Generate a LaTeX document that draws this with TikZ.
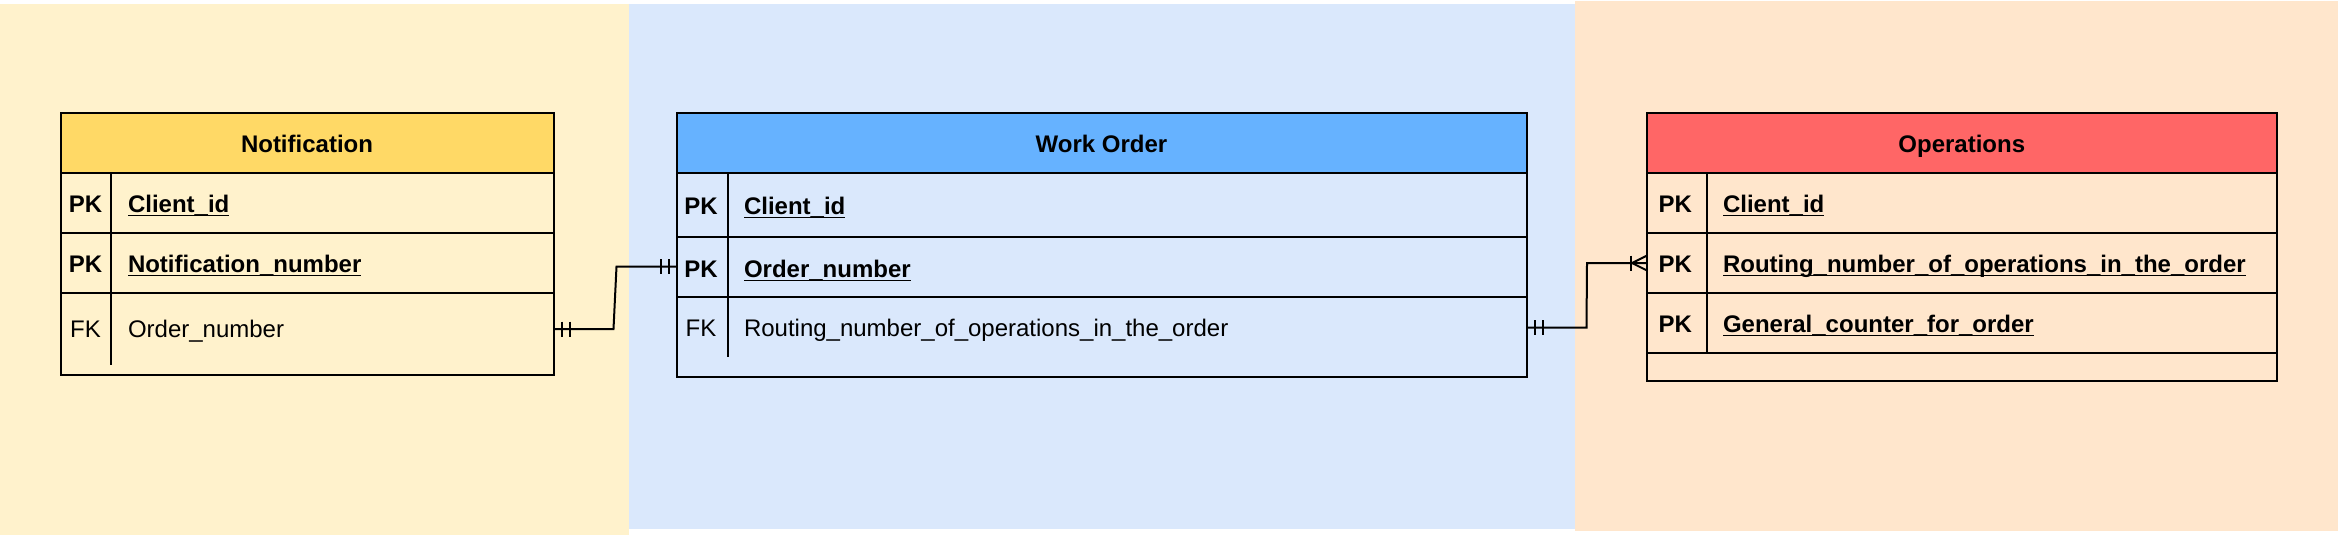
\documentclass[tikz,border=0pt]{standalone}
\usepackage{fontspec}
\setmainfont{Liberation Sans}
\usetikzlibrary{calc}
\definecolor{notepanel}{HTML}{FFF2CC}
\definecolor{orderpanel}{HTML}{DAE8FC}
\definecolor{operpanel}{HTML}{FFE6CC}
\definecolor{notehead}{HTML}{FFD966}
\definecolor{orderhead}{HTML}{66B2FF}
\definecolor{operhead}{HTML}{FF6666}
\newlength{\pxunit}
\setlength{\pxunit}{0.5pt}
\newcommand{\keyfield}[1]{\textbf{\underline{\smash{#1}}}}

\begin{document}
\begin{tikzpicture}[x=\pxunit,y=-\pxunit,line width=1pt,box/.style={rectangle,draw,line width=1pt,inner sep=0,outer sep=0},head/.style={box,minimum height=60\pxunit,text height=12.5pt,text depth=2.4pt,font=\fontsize{12pt}{14pt}\selectfont\bfseries},key/.style={inner sep=0,text height=11pt,text depth=2.4pt,font=\fontsize{12pt}{14pt}\selectfont},field/.style={key,anchor=west},wire/.style={draw,line width=1pt}]
  \useasboundingbox (0,0) rectangle (2338,538);
  \fill[notepanel] (0,3.5) rectangle (629,534.5);
  \fill[orderpanel] (629,3.5) rectangle (1574.5,528.5);
  \fill[operpanel] (1574.5,0.5) rectangle (2338,531);
  \node[head,fill=notehead,minimum width=493\pxunit] (n1) at (307,142.5) {Notification};
  \node[box,minimum width=493\pxunit,minimum height=60.5\pxunit] (n2) at (307,202.75) {};
  \node[box,minimum width=493\pxunit,minimum height=60\pxunit] (n3) at (307,263) {};
  \node[box,minimum width=493\pxunit,minimum height=82\pxunit] (n4) at (307,334) {};
  \node[key] (n5) at (85.5,203.5) {\textbf{PK}};
  \node[field] (n6) at (127,203.5) {\keyfield{Client\_id}};
  \node[key] (n7) at (85.5,264) {\textbf{PK}};
  \node[field] (n8) at (127,264) {\keyfield{Notification\_number}};
  \node[key] (n9) at (85.5,329) {FK};
  \node[field] (n10) at (127,329) {Order\_number};
  \draw (110.7,172.5) -- (110.7,364.7);
  \node[head,fill=orderhead,minimum width=850\pxunit] (n11) at (1101.5,142.5) {Work Order};
  \node[box,minimum width=850\pxunit,minimum height=64\pxunit] (n12) at (1101.5,204.5) {};
  \node[box,minimum width=850\pxunit,minimum height=60\pxunit] (n13) at (1101.5,266.5) {};
  \node[box,minimum width=850\pxunit,minimum height=80\pxunit] (n14) at (1101.5,336.5) {};
  \node[key] (n15) at (701,206) {\textbf{PK}};
  \node[field] (n16) at (743,206) {\keyfield{Client\_id}};
  \node[key] (n17) at (701,268.5) {\textbf{PK}};
  \node[field] (n18) at (743,268.5) {\keyfield{Order\_number}};
  \node[key] (n19) at (701,327.5) {FK};
  \node[field] (n20) at (743,327.5) {Routing\_number\_of\_operations\_in\_the\_order};
  \draw (727.6,172.5) -- (727.6,356.8);
  \node[head,fill=operhead,minimum width=629.5\pxunit] (n21) at (1961.75,142.5) {Operations};
  \node[box,minimum width=629.5\pxunit,minimum height=60.5\pxunit] (n22) at (1961.75,202.75) {};
  \node[box,minimum width=629.5\pxunit,minimum height=60\pxunit] (n23) at (1961.75,263) {};
  \node[box,minimum width=629.5\pxunit,minimum height=60\pxunit] (n24) at (1961.75,323) {};
  \node[box,minimum width=629.5\pxunit,minimum height=28\pxunit] (n25) at (1961.75,367) {};
  \node[key] (n26) at (1675.3,204) {\textbf{PK}};
  \node[field] (n27) at (1722,204) {\keyfield{Client\_id}};
  \node[key] (n28) at (1675.3,264) {\textbf{PK}};
  \node[field] (n29) at (1722,264) {\keyfield{Routing\_number\_of\_operations\_in\_the\_order}};
  \node[key] (n30) at (1675.3,324) {\textbf{PK}};
  \node[field] (n31) at (1722,324) {\keyfield{General\_counter\_for\_order}};
  \draw (1706.8,172.5) -- (1706.8,353);
  \coordinate (c1) at (n4.east |- n10);
  \coordinate (c2) at (n14.east |- n20);
  \path[wire] (c1) -- ++(60,0) -- ($(n13.west)+(-60,0)$) -- (n13.west);
  \path[wire] ($(c1)+(8,-7.5)$) -- ($(c1)+(8,7.5)$) ($(c1)+(16,-7.5)$) -- ($(c1)+(16,7.5)$);
  \path[wire] ($(n13.west)+(-8,-7.5)$) -- ($(n13.west)+(-8,7.5)$) ($(n13.west)+(-16,-7.5)$) -- ($(n13.west)+(-16,7.5)$);
  \path[wire] (c2) -- ++(60,0) -- ($(n23.west)+(-60,0)$) -- (n23.west);
  \path[wire] ($(c2)+(8,-7.5)$) -- ($(c2)+(8,7.5)$) ($(c2)+(16,-7.5)$) -- ($(c2)+(16,7.5)$);
  \path[wire] ($(n23.west)+(-16,-7.5)$) -- ($(n23.west)+(-16,7.5)$);
  \path[wire] ($(n23.west)+(0,-7.5)$) -- ($(n23.west)+(-15,0)$) -- ($(n23.west)+(0,7.5)$);
\end{tikzpicture}
\end{document}
